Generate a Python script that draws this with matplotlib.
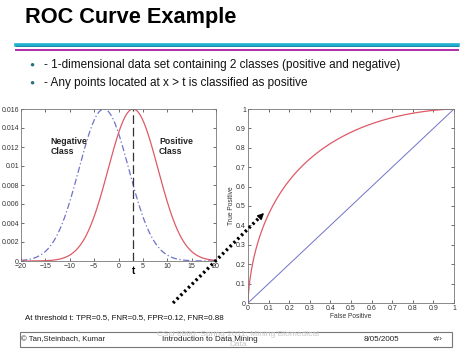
import math
import numpy as np
import matplotlib
matplotlib.use('Agg')
import matplotlib.pyplot as plt
from matplotlib.patches import Rectangle
from matplotlib.lines import Line2D

plt.rcParams['font.family'] = ['Liberation Sans', 'DejaVu Sans']

# two class distributions
class_names = ['Negative\nClass', 'Positive\nClass']
class_means = [-3.0, 3.0]
class_std = 5.1
threshold = 3.0
label_pos = [(-14.0, 0.0121), (8.3, 0.0121)]

left_xticks = [-20, -15, -10, -5, 0, 5, 10, 15, 20]
left_yticks = [0, 0.002, 0.004, 0.006, 0.008, 0.01, 0.012, 0.014, 0.016]
left_yticklabels = ['0', '0.002', '0.004', '0.006', '0.008', '0.01', '0.012', '0.014', '0.016']
roc_ticks = [0, 0.1, 0.2, 0.3, 0.4, 0.5, 0.6, 0.7, 0.8, 0.9, 1]
roc_ticklabels = ['0', '0.1', '0.2', '0.3', '0.4', '0.5', '0.6', '0.7', '0.8', '0.9', '1']

bullets = ['- 1-dimensional data set containing 2 classes (positive and negative)',
           '- Any points located at x > t is classified as positive']
note = 'At threshold t: TPR=0.5, FNR=0.5, FPR=0.12, FNR=0.88'

red = '#dd5a66'
blue = '#6f72c8'
tick_grey = '#333333'


def gauss(x, mu, s):
    # scaled so the peak sits at 0.016 like the slide
    return 0.016 * np.exp(-(x - mu) ** 2 / (2 * s ** 2))


def upper_tail(t, mu, s):
    return np.array([0.5 * math.erfc((v - mu) / (s * math.sqrt(2))) for v in t])


fig = plt.figure(figsize=(4.74, 3.55), dpi=100)
W, H = 474.0, 355.0

def fx(px):
    return px / W

def fy(py):
    return 1 - py / H

# title + header rules
fig.text(fx(25), fy(18), 'ROC Curve Example', fontsize=15.7, fontweight='bold', va='center', ha='left')
fig.add_artist(Line2D([fx(16), fx(458)], [fy(44.5), fy(44.5)], color='#1fb0cf', lw=2.6))
fig.add_artist(Line2D([fx(16), fx(458)], [fy(46.3), fy(46.3)], color='#1a7f9e', lw=0.6))
fig.add_artist(Line2D([fx(16), fx(458)], [fy(49.6), fy(49.6)], color='#b02aa8', lw=1.4))

for i, b in enumerate(bullets):
    y = fy(65 + 18 * i)
    fig.text(fx(29.5), y, '\u25cf', fontsize=6, color='#2a6f7f', va='center', ha='left')
    fig.text(fx(44), y, b, fontsize=8.5, va='center', ha='left', color='#111111')

# left panel: class distributions
ax1 = fig.add_axes([fx(21), fy(261), fx(216) - fx(21), fy(109) - fy(261)])
x = np.linspace(-20, 20, 400)
ax1.plot(x, gauss(x, class_means[0], class_std), color=blue, lw=0.9, ls=(0, (5, 2, 1, 2)))
ax1.plot(x, gauss(x, class_means[1], class_std), color=red, lw=0.9)
ax1.plot([threshold, threshold], [0, 0.016], color='#333333', lw=0.9, ls=(0, (7, 3)))
ax1.set_xlim(-20, 20)
ax1.set_ylim(0, 0.016)
ax1.set_xticks(left_xticks)
ax1.set_yticks(left_yticks)
ax1.set_yticklabels(left_yticklabels)
for (px, py), name in zip(label_pos, class_names):
    ax1.text(px, py, name, fontsize=6.3, fontweight='bold', ha='left', va='center',
             color='#222222', linespacing=1.15)
ax1.annotate('t', xy=(threshold, 0), xycoords=('data', 'axes fraction'),
             xytext=(0, -7), textcoords='offset points', ha='center', va='center',
             fontsize=7, fontweight='bold')

# right panel: ROC curve
ax2 = fig.add_axes([fx(248), fy(303), fx(454) - fx(248), fy(109) - fy(303)])
ts = np.linspace(-40, 40, 800)
fpr = upper_tail(ts, class_means[0], class_std)
tpr = upper_tail(ts, class_means[1], class_std)
ax2.plot(roc_ticks, roc_ticks, color=blue, lw=0.7)
ax2.plot(fpr, tpr, color=red, lw=0.9)
ax2.set_xlim(0, 1)
ax2.set_ylim(0, 1)
ax2.set_xticks(roc_ticks)
ax2.set_xticklabels(roc_ticklabels)
ax2.set_yticks(roc_ticks)
ax2.set_yticklabels(roc_ticklabels)
ax2.set_xlabel('False Positive', fontsize=4.8, labelpad=1, color='#333333')
ax2.set_ylabel('True Positive', fontsize=4.8, labelpad=1, color='#333333')

for ax in (ax1, ax2):
    ax.tick_params(direction='in', top=True, right=True, length=2.5, width=0.5,
                   labelsize=5, colors=tick_grey, pad=1.5)
    for s in ax.spines.values():
        s.set_color('#777777')
        s.set_linewidth(0.6)

# dotted arrow pointing at the ROC curve
fig.add_artist(Line2D([fx(173), fx(260)], [fy(303), fy(217)], color='black', lw=2.4, ls=(0, (0.7, 0.9))))
ax2.annotate('', xy=(fx(266), fy(211)), xycoords='figure fraction',
             xytext=(fx(258), fy(219)), textcoords='figure fraction',
             arrowprops=dict(arrowstyle='-|>', color='black', lw=1, mutation_scale=9))

fig.text(fx(25), fy(318), note, fontsize=5.7, va='center', ha='left', color='#111111')

# footer
fig.add_artist(Rectangle((fx(20), fy(347)), fx(452) - fx(20), fy(332) - fy(347),
                         transform=fig.transFigure, fill=False, ec='#777777', lw=0.8))
fig.text(fx(238), fy(335), 'CSci 8980: Spring 2011: Mining Biomedical', fontsize=6,
         color='#c8c8c8', ha='center', va='center')
fig.text(fx(238), fy(344.5), 'Data', fontsize=6, color='#c8c8c8', ha='center', va='center')
fig.text(fx(21), fy(339.5), '\u00a9 Tan,Steinbach, Kumar', fontsize=5.6, va='center', ha='left', color='#222222')
fig.text(fx(162), fy(339.5), 'Introduction to Data Mining', fontsize=5.8, va='center', ha='left', color='#222222')
fig.text(fx(364), fy(339.5), '8/05/2005', fontsize=5.8, va='center', ha='left', color='#222222')
fig.text(fx(433), fy(339.5), '\u2039#\u203a', fontsize=5.8, va='center', ha='left', color='#222222')

fig.savefig('out.png', dpi=100)
